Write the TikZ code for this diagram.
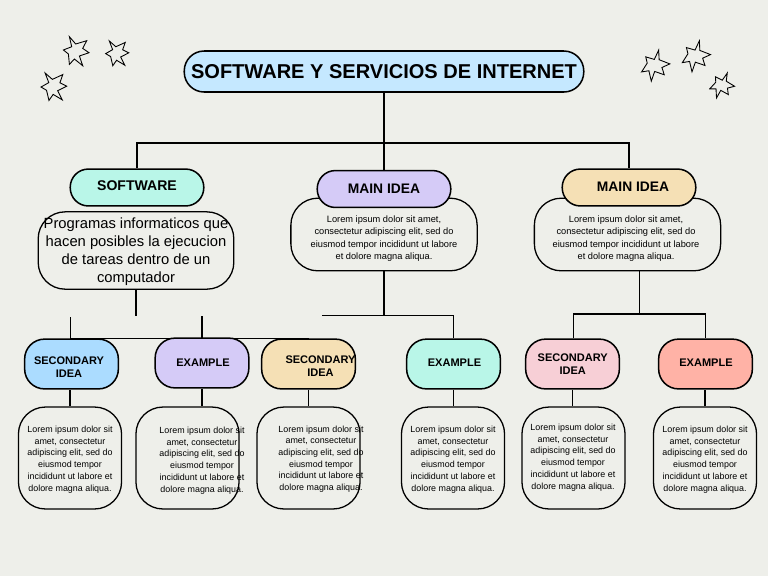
\documentclass[tikz,border=0pt]{standalone}
\usepackage{fontspec}
\setmainfont{Liberation Sans}
\usetikzlibrary{calc,positioning}
\definecolor{paper}{HTML}{EEEFEA}
\definecolor{titlefill}{HTML}{C5E8FF}
\definecolor{tealfill}{HTML}{B9F6E8}
\definecolor{purplefill}{HTML}{D5CBF7}
\definecolor{tanfill}{HTML}{F5E0B5}
\definecolor{bluefill}{HTML}{ABDCFF}
\definecolor{pinkfill}{HTML}{F7CFD6}
\definecolor{redfill}{HTML}{FFB2A6}
\tikzset{
  headbox/.style={draw=black,line width=1.3pt,rounded corners=15.5pt,minimum width=114pt,minimum height=31.5pt,inner sep=0pt,font=\fontsize{11.8}{13}\selectfont\bfseries},
  subbox/.style={draw=black,line width=1.3pt,rounded corners=17pt,minimum width=80pt,minimum height=42.5pt,inner sep=0pt},
  textbox/.style={draw=black,line width=1.1pt,rounded corners=23pt,fill=paper,inner sep=0pt},
  lowbox/.style={textbox,minimum width=88pt,minimum height=87pt},
  midbox/.style={textbox,minimum width=159pt,minimum height=62pt},
  sublabel/.style={align=center,inner sep=0pt,font=\fontsize{9.4}{11}\selectfont\bfseries},
  lorem/.style={align=center,inner sep=0pt,font=\fontsize{7.6}{10}\selectfont},
  loremwide/.style={align=center,inner sep=0pt,font=\fontsize{7.9}{10.7}\selectfont},
  link/.style={draw=black,line width=0.9pt},
  thicklink/.style={draw=black,line width=1.4pt},
  staricon/.style={draw=black,line width=0.75pt,fill=paper,line join=miter}
}
\newcommand{\loremshort}{Lorem ipsum dolor sit\\amet, consectetur\\adipiscing elit, sed do\\eiusmod tempor\\incididunt ut labore et\\dolore magna aliqua.}
\newcommand{\loremlong}{Lorem ipsum dolor sit amet,\\consectetur adipiscing elit, sed do\\eiusmod tempor incididunt ut labore\\et dolore magna aliqua.}
\begin{document}
\begin{tikzpicture}[x=0.03cm,y=-0.03cm]
            \fill[paper] (0,0) rectangle (768,576);
            \useasboundingbox (0,0) rectangle (768,576);

            %estrellas
            \foreach \sx/\sy/\sr/\sa in {75.7/50.7/1/0, 116.7/52.7/0.9/8, 53.3/86/1/8, 655/65/1/-38, 695.7/55.7/1/-38, 722/85/0.85/-48}{
                \draw[staricon,shift={(\sx,\sy)},rotate=\sa,scale=\sr]
                (-6.3,-14) -- (0,-6.7) -- (11,-10) -- (7,-2.3) -- (13.3,2) -- (3.7,5.3) -- (7,15)
                -- (-1.3,8.3) -- (-6.3,13.7) -- (-7.3,3.3) -- (-12.3,-0.7) -- (-4,-4) -- cycle;
            }

            %titulo y nivel principal
            \coordinate (TopBar) at (384,143);
            \coordinate (LeftBar) at (137,143);
            \coordinate (RightBar) at (629,143);

            \node[draw=black,line width=1.3pt,rounded corners=17pt,fill=titlefill,minimum width=341pt,minimum height=35pt,inner sep=0pt,font=\fontsize{17.1}{20}\selectfont\bfseries] (Title) at (384,71.5) {SOFTWARE Y SERVICIOS DE INTERNET};

            \node[midbox] (MidText) at (384,234.5) {};
            \node[midbox] (RightText) at (627.5,234.5) {};
            \node[loremwide] (MidLorem) at (384,238.5) {\loremlong};
            \node[loremwide] (RightLorem) at (626,238.5) {\loremlong};

            \node[headbox,fill=tealfill] (SoftBox) at (137,187.5) {};
            \node[headbox,fill=purplefill] (MidBox) at (384,189) {MAIN IDEA};
            \node[headbox,fill=tanfill] (RightBox) at (629,187.5) {};
            \node[font=\fontsize{12}{13}\selectfont\bfseries] (SoftLabel) at (137,186) {SOFTWARE};
            \node[font=\fontsize{11.8}{13}\selectfont\bfseries] (RightLabel) at (633,187) {MAIN IDEA};

            \node[textbox,minimum width=167pt,minimum height=66pt] (SoftText) at (136,250.5) {};
            \node[align=center,inner sep=0pt,font=\fontsize{12.6}{15.4}\selectfont] (SoftLines) at (136,251.5) {Programas informaticos que\\hacen posibles la ejecucion\\de tareas dentro de un\\computador};

            \draw[thicklink] (Title.south) -- (TopBar) -- (MidBox.north);
            \draw[thicklink] (SoftBox.north) -- (LeftBar) -- (RightBar) -- (RightBox.north);

            %nivel secundario
            \node[subbox,fill=bluefill] (SecA) at (71.5,364) {};
            \node[subbox,fill=purplefill] (ExaA) at (202,363) {};
            \node[subbox,fill=tanfill] (SecB) at (308.5,364) {};
            \node[subbox,fill=tealfill] (ExaB) at (453.5,364) {};
            \node[subbox,fill=pinkfill] (SecC) at (572.5,364) {};
            \node[subbox,fill=redfill] (ExaC) at (705.5,364) {};

            \node[sublabel] at (69,367) {SECONDARY\\IDEA};
            \node[sublabel] at (203,362.5) {EXAMPLE};
            \node[sublabel] at (320.5,366) {SECONDARY\\IDEA};
            \node[sublabel] at (454.5,362.5) {EXAMPLE};
            \node[sublabel] at (572.7,364) {SECONDARY\\IDEA};
            \node[sublabel] at (706,362.5) {EXAMPLE};

            \node[lowbox] (LowA) at (70,458) {};
            \node[lowbox] (LowB) at (187.5,458) {};
            \node[lowbox] (LowC) at (308.5,458) {};
            \node[lowbox] (LowD) at (453,458) {};
            \node[lowbox] (LowE) at (573.5,458) {};
            \node[lowbox] (LowF) at (705,458) {};

            \node[lorem] at (70,459.5) {\loremshort};
            \node[lorem] at (202,460.5) {\loremshort};
            \node[lorem] at (321,459) {\loremshort};
            \node[lorem] at (453,459.5) {\loremshort};
            \node[lorem] at (573,457.5) {\loremshort};
            \node[lorem] at (705,459.5) {\loremshort};

            \draw[link] (LowA.north) -- (SecA.south -| LowA.north);
            \draw[link] (ExaA.south) -- (ExaA.south |- LowB.north);
            \draw[link] (SecB.south) -- (LowC.north);
            \draw[link] (ExaB.south) -- (ExaB.south |- LowD.north);
            \draw[link] (SecC.south) -- (SecC.south |- LowE.north);
            \draw[link] (LowF.north) -- (ExaC.south -| LowF.north);

            %ramas con huecos
            \coordinate (SoftStub) at (136,316);
            \coordinate (BarLeft) at (70.5,338.5);
            \coordinate (BarMid) at (202,338.5);
            \coordinate (BarRight) at (309,338.5);
            \coordinate (BarLeftTop) at (70.5,317);
            \coordinate (BarMidTop) at (202,316);
            \draw[link] (SoftText.south) -- (SoftStub);
            \draw[link] (BarLeftTop) -- (BarLeft) -- (BarRight);
            \draw[link] (BarMidTop) -- (BarMid);

            \coordinate (MidStart) at (322,315.5);
            \coordinate (MidCorner) at (384,315.5);
            \coordinate (MidTurn) at (453.5,315.5);
            \draw[link] (MidText.south) -- (MidCorner);
            \draw[link] (MidStart) -- (MidTurn) -- (ExaB.north);

            \coordinate (RightDrop) at (639.5,271);
            \coordinate (RightJoin) at (639.5,314);
            \coordinate (RightStart) at (573.5,314);
            \coordinate (RightEnd) at (705.5,314);
            \draw[link] (RightDrop) -- (RightJoin);
            \draw[link] (SecC.north -| RightStart) -- (RightStart) -- (RightEnd) -- (ExaC.north);
            \end{tikzpicture}
\end{document}
